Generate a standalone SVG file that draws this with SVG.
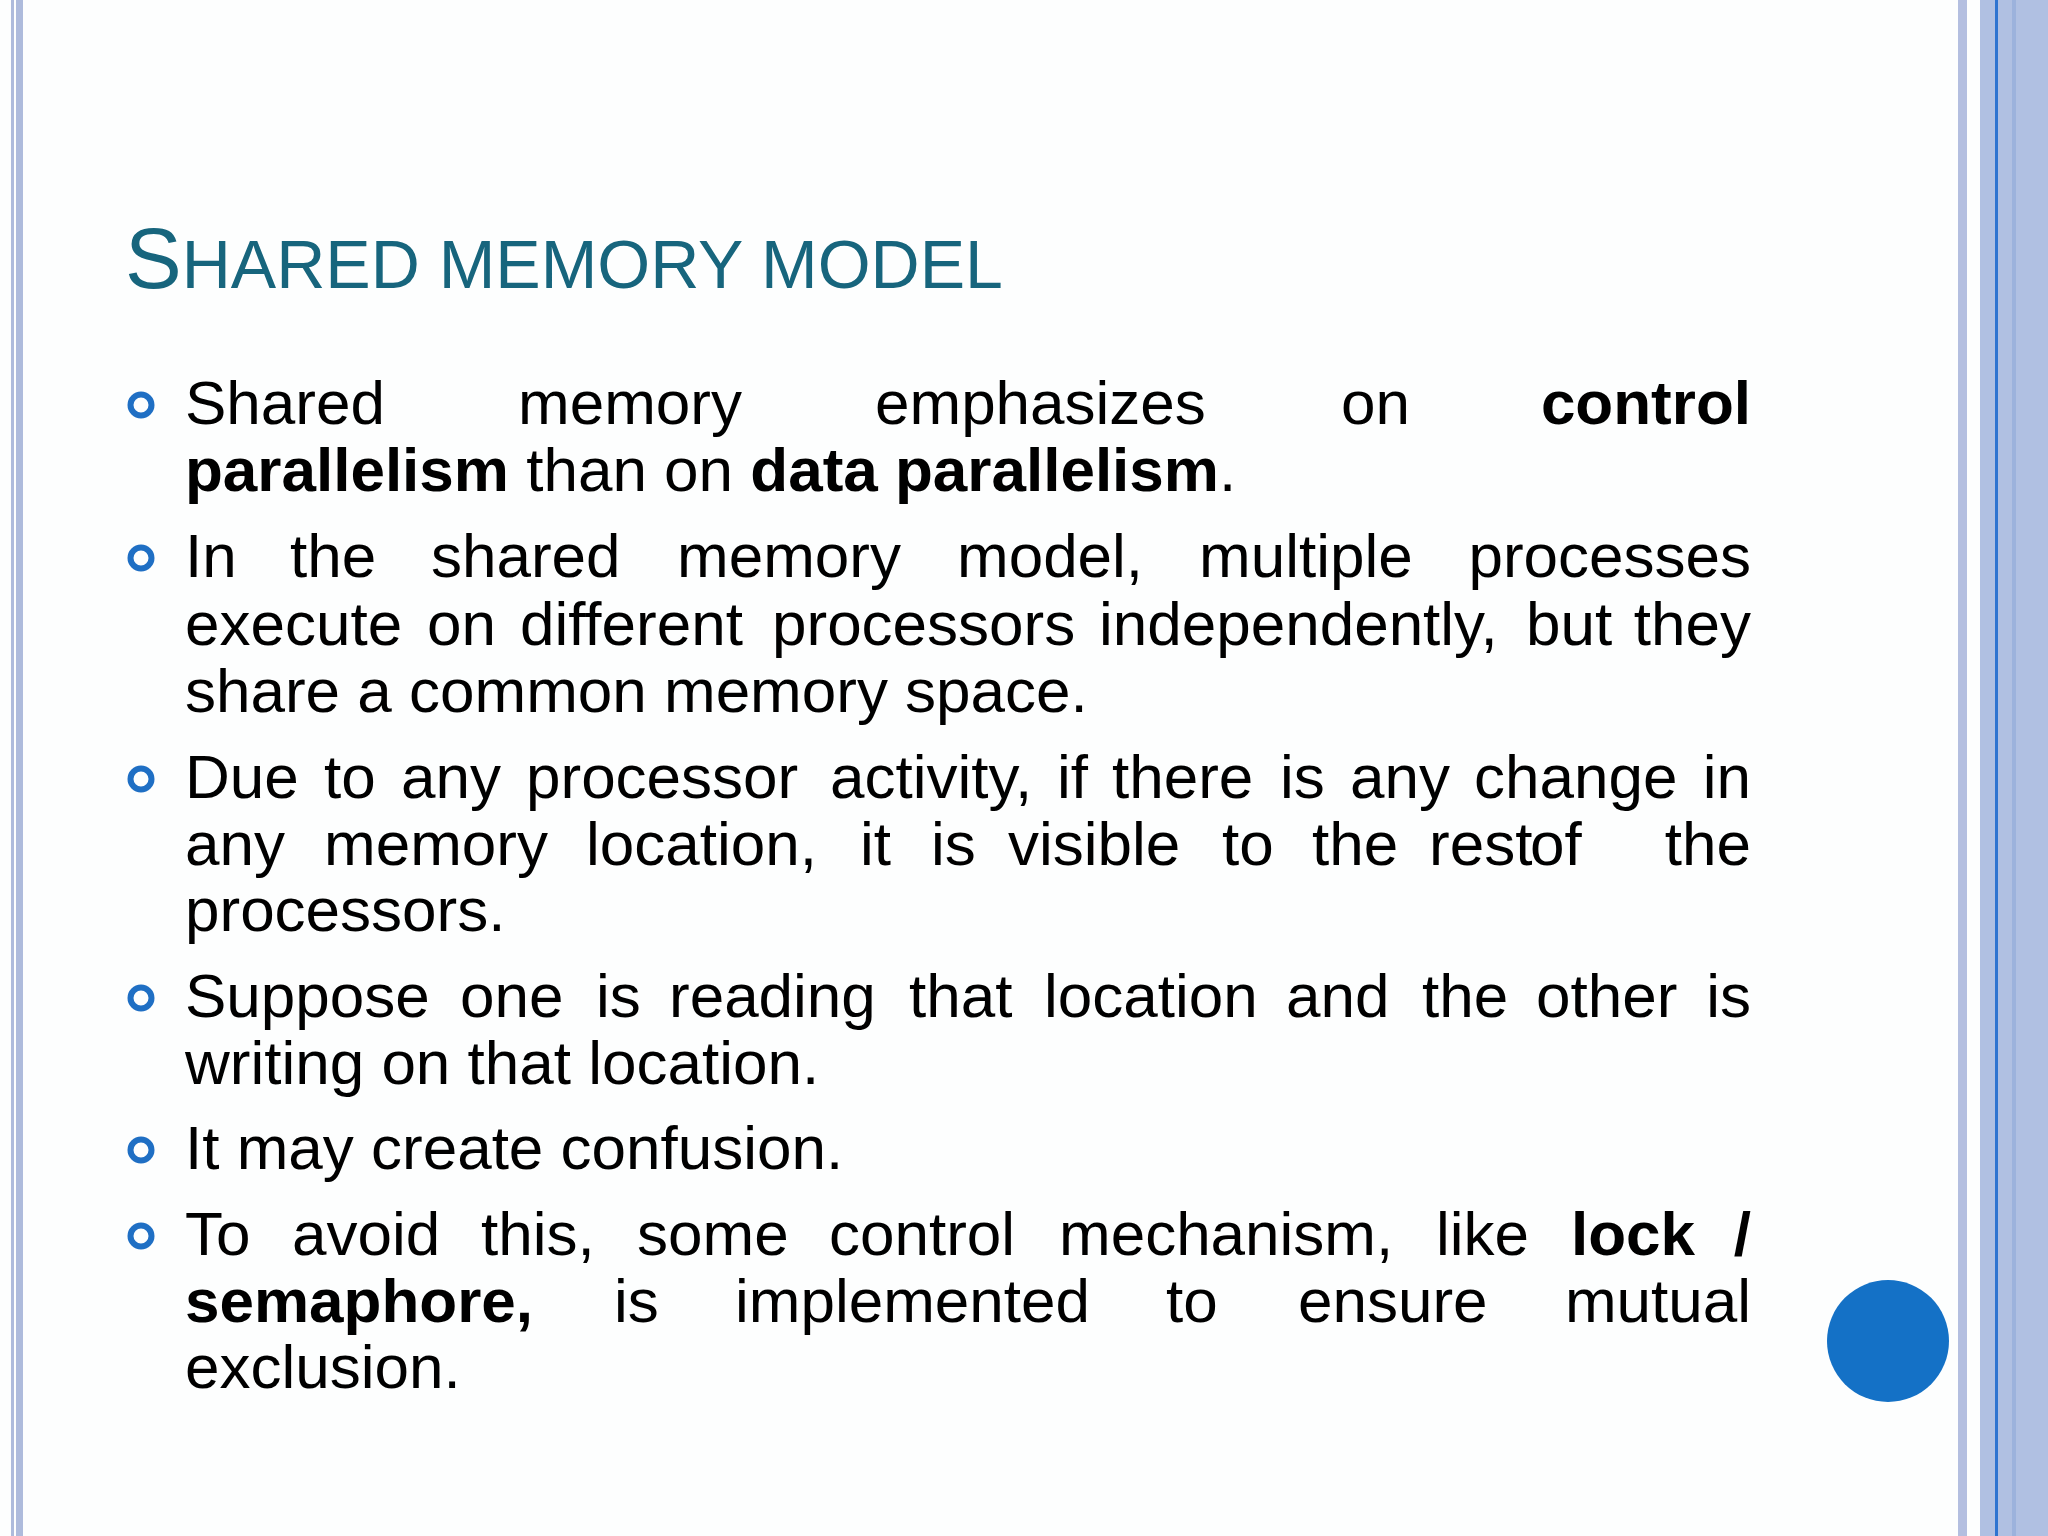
<svg xmlns="http://www.w3.org/2000/svg" width="2048" height="1536" viewBox="0 0 2048 1536">
<style>
.t{font-family:"Liberation Sans",Arial,sans-serif;font-size:62px;fill:#000}
.b{font-weight:bold}
.e{text-anchor:end}
.bul{fill:none;stroke:#1f6fc4;stroke-width:6}
</style>
<rect width="2048" height="1536" fill="#fdfefe"/>
<rect x="11" y="0" width="3" height="1536" fill="#aebbdc"/>
<rect x="16" y="0" width="7" height="1536" fill="#aebbdc"/>
<rect x="1958" y="0" width="9" height="1536" fill="#b4bfe0"/>
<rect x="1980" y="0" width="68" height="1536" fill="#b0c0e2"/>
<rect x="1995" y="0" width="3" height="1536" fill="#2f74d0"/>
<rect x="2012" y="0" width="4" height="1536" fill="#9cb2dc"/>
<text x="125" y="288" font-family="Liberation Sans,Arial,sans-serif" font-size="85" fill="#17657d">S<tspan font-size="68">HARED MEMORY MODEL</tspan></text>
<g>
<circle class="bul" cx="141" cy="405" r="10.5"/>
<circle class="bul" cx="141" cy="558" r="10.5"/>
<circle class="bul" cx="141" cy="779" r="10.5"/>
<circle class="bul" cx="141" cy="998" r="10.5"/>
<circle class="bul" cx="141" cy="1150" r="10.5"/>
<circle class="bul" cx="141" cy="1236" r="10.5"/>
</g>
<g class="t">
<text class="t" y="424"><tspan x="185">Shared</tspan><tspan x="518">memory</tspan><tspan x="875">emphasizes</tspan><tspan x="1341">on</tspan></text>
<text class="t b e" x="1751" y="424">control</text>
<text class="t" x="185" y="491"><tspan class="b">parallelism</tspan> than on <tspan class="b">data parallelism</tspan>.</text>
<text class="t" y="577"><tspan x="185">In</tspan><tspan x="290">the</tspan><tspan x="431">shared</tspan><tspan x="677">memory</tspan><tspan x="957">model,</tspan><tspan x="1199">multiple</tspan></text>
<text class="t e" x="1751" y="577">processes</text>
<text class="t" y="645"><tspan x="185">execute</tspan><tspan x="427">on</tspan><tspan x="520">different</tspan><tspan x="772">processors</tspan><tspan x="1099">independently,</tspan><tspan x="1526">but</tspan></text>
<text class="t e" x="1751" y="645">they</text>
<text class="t" x="185" y="712">share a common memory space.</text>
<text class="t" y="798"><tspan x="185">Due</tspan><tspan x="324">to</tspan><tspan x="401">any</tspan><tspan x="526">processor</tspan><tspan x="830">activity,</tspan><tspan x="1057">if</tspan><tspan x="1112">there</tspan><tspan x="1280">is</tspan><tspan x="1350">any</tspan><tspan x="1474">change</tspan></text>
<text class="t e" x="1751" y="798">in</text>
<text class="t" y="865"><tspan x="185">any</tspan><tspan x="324">memory</tspan><tspan x="586">location,</tspan><tspan x="860">it</tspan><tspan x="931">is</tspan><tspan x="1008">visible</tspan><tspan x="1222">to</tspan><tspan x="1312">the</tspan><tspan x="1429">rest</tspan><tspan x="1530">of</tspan></text>
<text class="t e" x="1751" y="865">the</text>
<text class="t" x="185" y="931">processors.</text>
<text class="t" y="1017"><tspan x="185">Suppose</tspan><tspan x="460">one</tspan><tspan x="596">is</tspan><tspan x="669">reading</tspan><tspan x="909">that</tspan><tspan x="1044">location</tspan><tspan x="1286">and</tspan><tspan x="1422">the</tspan><tspan x="1536">other</tspan></text>
<text class="t e" x="1751" y="1017">is</text>
<text class="t" x="185" y="1084">writing on that location.</text>
<text class="t" x="185" y="1169">It may create confusion.</text>
<text class="t" y="1255"><tspan x="185">To</tspan><tspan x="292">avoid</tspan><tspan x="481">this,</tspan><tspan x="637">some</tspan><tspan x="829">control</tspan><tspan x="1059">mechanism,</tspan><tspan x="1436">like</tspan><tspan x="1571" font-weight="bold">lock</tspan></text>
<text class="t b e" x="1751" y="1255">/</text>
<text class="t" y="1322"><tspan x="185" font-weight="bold">semaphore,</tspan><tspan x="614">is</tspan><tspan x="735">implemented</tspan><tspan x="1166">to</tspan><tspan x="1298">ensure</tspan></text>
<text class="t e" x="1751" y="1322">mutual</text>
<text class="t" x="185" y="1388">exclusion.</text>
</g>
<circle cx="1888" cy="1341" r="61" fill="#1471c6"/>
</svg>
